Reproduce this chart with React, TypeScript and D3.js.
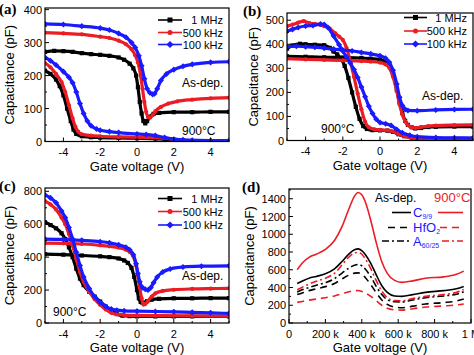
import * as React from 'react';
import * as d3 from 'd3';

type Pt = [number, number];

// ---- (a) C-V sweeps, gate voltage (V) vs capacitance (pF)
const aDep1M: Pt[] = [[-5,272],[-4.5,275],[-4,274],[-3.5,272],[-3,268],[-2.5,265],[-2,263],[-1.5,260],[-1,255],[-0.7,248],[-0.4,236],[-0.2,222],[-0.05,200],[0.05,165],[0.15,120],[0.25,85],[0.35,62],[0.45,55],[0.55,62],[0.7,75],[0.9,84],[1.2,87],[2,89],[3,89],[4,90],[5,90]];
const aDep500k: Pt[] = [[-5,330],[-4,328],[-3,325],[-2,318],[-1.5,314],[-1,306],[-0.6,295],[-0.3,280],[-0.1,262],[0.05,240],[0.2,200],[0.3,160],[0.4,120],[0.5,90],[0.6,74],[0.7,72],[0.85,80],[1,92],[1.3,105],[1.7,115],[2.2,122],[3,127],[4,131],[5,133]];
const aDep100k: Pt[] = [[-5,357],[-4,355],[-3,350],[-2,344],[-1.5,338],[-1,328],[-0.6,316],[-0.3,300],[-0.1,285],[0.1,260],[0.25,230],[0.4,190],[0.55,160],[0.7,148],[0.85,143],[0.95,145],[1.1,160],[1.3,185],[1.6,205],[2,218],[2.5,228],[3,234],[4,240],[5,242]];
const a900_1M: Pt[] = [[-5,215],[-4.7,205],[-4.4,188],[-4.2,168],[-4,140],[-3.8,100],[-3.6,62],[-3.45,36],[-3.3,23],[-3,16],[-2.5,13],[-2,12],[-1,11],[0,10],[1,9],[1.5,7],[2,4],[2.5,2]];
const a900_500k: Pt[] = [[-5,238],[-4.7,225],[-4.4,205],[-4.1,180],[-3.9,150],[-3.7,110],[-3.5,70],[-3.35,45],[-3.2,30],[-3,22],[-2.5,18],[-2,16],[-1,14],[0,13],[1,12],[1.5,10],[2,7],[2.5,4],[3,2]];
const a900_100k: Pt[] = [[-5,255],[-4.7,245],[-4.4,232],[-4,212],[-3.7,195],[-3.5,178],[-3.3,150],[-3.1,115],[-2.9,85],[-2.7,62],[-2.5,48],[-2.2,38],[-2,34],[-1.5,30],[-1,27],[0,23],[0.5,21],[1,18],[1.5,12],[2,7],[2.5,5],[3,4],[4,3],[5,3]];

// ---- (b)
const bDep1M: Pt[] = [[-5,350],[-4,348],[-3,346],[-2,345],[-1,343],[-0.5,340],[0,336],[0.3,328],[0.5,312],[0.7,275],[0.9,215],[1.05,160],[1.2,115],[1.35,82],[1.5,65],[1.7,55],[1.9,50],[2.2,52],[2.6,56],[3,57],[4,58],[5,58]];
const bDep500k: Pt[] = [[-5,340],[-4,337],[-3,335],[-2,333],[-1,330],[-0.5,328],[0,324],[0.3,316],[0.5,302],[0.7,265],[0.9,205],[1.05,150],[1.2,108],[1.35,80],[1.5,64],[1.7,55],[1.9,52],[2.2,56],[2.6,60],[3,62],[4,64],[5,65]];
const bDep100k: Pt[] = [[-5,390],[-4.5,392],[-4,390],[-3.5,388],[-3,384],[-2.5,380],[-2,376],[-1.5,372],[-1,366],[-0.5,360],[0,352],[0.3,342],[0.5,325],[0.7,292],[0.9,235],[1.05,180],[1.2,145],[1.35,130],[1.5,125],[2,124],[3,127],[4,129],[5,130]];
const b900_1M: Pt[] = [[-5,382],[-4.7,395],[-4.3,402],[-4,400],[-3.5,398],[-3,396],[-2.7,385],[-2.5,370],[-2.3,358],[-2.1,340],[-1.9,310],[-1.7,260],[-1.5,200],[-1.3,140],[-1.1,90],[-0.9,60],[-0.7,48],[-0.4,43],[0,42],[0.4,41],[0.7,36],[1,26],[1.3,18],[1.7,12],[2.2,9],[3,8],[5,8]];
const b900_500k: Pt[] = [[-5,475],[-4.7,482],[-4.4,490],[-4.1,496],[-3.8,488],[-3.5,485],[-3.2,480],[-3,475],[-2.7,465],[-2.4,445],[-2.2,432],[-2,418],[-1.8,385],[-1.6,330],[-1.4,265],[-1.2,195],[-1,130],[-0.8,78],[-0.6,55],[-0.3,46],[0,44],[0.4,42],[0.7,37],[1,27],[1.3,18],[1.7,12],[2.2,10],[3,9],[5,9]];
const b900_100k: Pt[] = [[-5,455],[-4.7,462],[-4.4,470],[-4,476],[-3.6,478],[-3.2,484],[-3,482],[-2.8,470],[-2.5,435],[-2.2,398],[-2,372],[-1.8,347],[-1.6,322],[-1.4,295],[-1.2,262],[-1,222],[-0.8,182],[-0.6,142],[-0.4,112],[-0.2,88],[0,75],[0.3,70],[0.6,62],[0.9,46],[1.2,32],[1.6,22],[2,16],[3,12],[4,11],[5,10]];

// ---- (c)
const cDep1M: Pt[] = [[-5,418],[-4,415],[-3,410],[-2,405],[-1.5,400],[-1,392],[-0.7,380],[-0.5,365],[-0.3,335],[-0.15,280],[0,200],[0.1,150],[0.2,128],[0.3,122],[0.4,124],[0.55,132],[0.8,142],[1.2,147],[2,150],[3,150],[4,151],[5,151]];
const cDep500k: Pt[] = [[-5,485],[-4,484],[-3,480],[-2,472],[-1.5,466],[-1,458],[-0.6,445],[-0.4,432],[-0.2,405],[-0.05,350],[0.05,290],[0.15,215],[0.25,150],[0.35,112],[0.45,115],[0.6,135],[0.8,160],[1,180],[1.4,195],[2,202],[3,207],[4,209],[5,210]];
const cDep100k: Pt[] = [[-5,510],[-4,508],[-3,502],[-2,494],[-1.5,487],[-1,475],[-0.6,460],[-0.4,445],[-0.2,415],[-0.05,360],[0.05,300],[0.15,250],[0.3,215],[0.45,205],[0.6,200],[0.75,215],[0.9,245],[1.1,280],[1.4,310],[1.8,328],[2.5,340],[3.5,345],[5,347]];
const c900_1M: Pt[] = [[-5,612],[-4.7,595],[-4.4,575],[-4.1,545],[-3.9,510],[-3.7,460],[-3.5,400],[-3.3,330],[-3.1,270],[-2.9,230],[-2.6,190],[-2.3,160],[-2,130],[-1.7,100],[-1.4,75],[-1.1,55],[-0.8,45],[-0.4,42],[0,40],[1,40],[2,40],[3,40],[5,40]];
const c900_500k: Pt[] = [[-5,740],[-4.7,720],[-4.4,690],[-4.1,640],[-3.9,600],[-3.7,540],[-3.5,470],[-3.3,390],[-3.1,310],[-2.9,250],[-2.6,190],[-2.3,145],[-2,110],[-1.7,82],[-1.4,62],[-1.1,52],[-0.7,48],[0,46],[1,45],[2,44],[3,43],[5,42]];
const c900_100k: Pt[] = [[-5,778],[-4.7,760],[-4.4,730],[-4.1,680],[-3.9,640],[-3.7,580],[-3.5,510],[-3.3,430],[-3.1,350],[-2.9,280],[-2.6,210],[-2.3,160],[-2,125],[-1.7,100],[-1.4,85],[-1.1,78],[-0.7,74],[0,72],[1,70],[2,68],[3,65],[4,62],[5,58]];

// ---- (d) capacitance vs frequency (kHz), as-deposited and 900 °C
const dDepC: Pt[] = [[45,445],[80,480],[110,505],[150,525],[200,555],[250,610],[290,690],[330,780],[360,825],[380,835],[400,815],[420,770],[450,670],[480,540],[510,420],[540,345],[580,305],[620,300],[680,320],[750,345],[850,365],[920,385],[960,412]];
const d900C: Pt[] = [[45,600],[80,690],[110,740],[150,775],[200,830],[250,930],[290,1080],[330,1290],[360,1430],[380,1470],[400,1445],[420,1360],[450,1150],[480,900],[510,690],[540,560],[580,480],[620,458],[680,475],[750,505],[850,520],[920,550],[960,585]];
const dDepHf: Pt[] = [[45,320],[80,345],[110,365],[150,385],[200,410],[250,445],[290,495],[330,540],[360,562],[380,565],[400,550],[420,510],[450,430],[480,340],[510,260],[540,210],[580,180],[620,172],[680,190],[750,215],[850,230],[920,248],[960,270]];
const d900Hf: Pt[] = [[45,232],[80,245],[110,258],[150,270],[200,285],[250,305],[290,328],[330,352],[360,364],[380,366],[400,356],[420,338],[450,300],[480,250],[510,200],[540,165],[580,148],[620,145],[680,160],[750,180],[850,192],[920,203],[960,215]];
const dDepA: Pt[] = [[45,350],[80,380],[110,400],[150,425],[200,455],[250,500],[290,560],[330,620],[360,652],[380,660],[400,645],[420,605],[450,520],[480,410],[510,320],[540,262],[580,240],[620,238],[680,260],[750,285],[850,305],[920,325],[960,352]];
const d900A: Pt[] = [[45,375],[80,410],[110,440],[150,470],[200,505],[250,560],[290,650],[330,745],[360,790],[380,795],[400,775],[420,720],[450,610],[480,475],[510,360],[540,285],[580,252],[620,250],[680,275],[750,300],[850,320],[920,345],[960,378]];

const freqLabels = ['1 MHz', '500 kHz', '100 kHz'];
const dSamples = ['C', 'HfO', 'A'];
const dSubs = ['9/9', '2', '60/25'];

const FONT = '"Liberation Sans", Arial, Helvetica, sans-serif';
const RED = '#ec1c24';
const BLUE = '#1a1aff';
const freqColors = ['#000000', RED, BLUE];
const freqMarkers = ['square', 'circle', 'diamond'];
const dashes = ['none', '7,5', '7,3,2,3'];

type Scale = d3.ScaleLinear<number, number>;

function Marker(p: { kind: string; x: number; y: number; color: string; size: number }) {
    const { kind, x, y, color, size } = p;
    if (kind === 'square') return <rect x={x - size / 2} y={y - size / 2} width={size} height={size} fill={color} />;
    if (kind === 'circle') return <circle cx={x} cy={y} r={size / 2} fill={color} />;
    const h = size * 0.72;
    return <path d={`M${x},${y - h}L${x + h},${y}L${x},${y + h}L${x - h},${y}Z`} fill={color} />;
}

interface AxesProps {
    x: Scale; y: Scale;
    xTicks: number[]; xMinor: number[];
    yTicks: number[]; yMinor: number[];
    fmtX?: (v: number) => string;
    yTitleX: number; xTitleY: number;
}

function Axes(p: AxesProps) {
    const { x, y } = p;
    const [l, r] = x.range();
    const [b, t] = y.range();
    const fmt = p.fmtX || ((v: number) => String(v));
    return (
        <g fontFamily={FONT} fill="#000">
            {p.xTicks.map(v => <line key={'xt' + v} x1={x(v)} x2={x(v)} y1={b} y2={b - 4} stroke="#000" />)}
            {p.xMinor.map(v => <line key={'xm' + v} x1={x(v)} x2={x(v)} y1={b} y2={b - 2} stroke="#000" />)}
            {p.yTicks.map(v => <line key={'yt' + v} x1={l} x2={l + 4} y1={y(v)} y2={y(v)} stroke="#000" />)}
            {p.yMinor.map(v => <line key={'ym' + v} x1={l} x2={l + 2} y1={y(v)} y2={y(v)} stroke="#000" />)}
            <rect x={l} y={t} width={r - l} height={b - t} fill="none" stroke="#000" strokeWidth={1.2} />
            {p.xTicks.map(v => (
                <text key={'xl' + v} x={x(v)} y={b + 14.5} fontSize={11} textAnchor="middle">{fmt(v)}</text>
            ))}
            {p.yTicks.map(v => (
                <text key={'yl' + v} x={l - 3} y={y(v) + 4} fontSize={11} textAnchor="end">{v}</text>
            ))}
            <text x={(l + r) / 2} y={p.xTitleY} fontSize={13} textAnchor="middle">Gate voltage (V)</text>
            <text transform={`translate(${p.yTitleX},${(t + b) / 2}) rotate(-90)`} fontSize={13} textAnchor="middle">
                Capacitance (pF)
            </text>
        </g>
    );
}

interface CvPanelProps {
    id: string;
    box: [number, number, number, number];
    yMax: number;
    yTicks: number[];
    yMinor: number[];
    dep: Pt[][];
    ann: Pt[][];
    legend: { x0: number; x1: number; textX: number; rows: number[] };
    yTitleX: number;
    xTitleY: number;
    children?: React.ReactNode;
}

function CvPanel(p: CvPanelProps) {
    const [l, t, r, b] = p.box;
    const x = d3.scaleLinear().domain([-5, 5]).range([l, r]);
    const y = d3.scaleLinear().domain([0, p.yMax]).range([b, t]);
    const line = d3.line<Pt>().x(d => x(d[0])).y(d => y(d[1])).curve(d3.curveMonotoneX);
    // draw each frequency's pair together so 100 kHz ends up on top
    const order: [Pt[], number][] = [];
    [0, 1, 2].forEach(i => { order.push([p.dep[i], i]); order.push([p.ann[i], i]); });
    return (
        <g>
            <defs>
                <clipPath id={p.id}><rect x={l} y={t} width={r - l} height={b - t} /></clipPath>
            </defs>
            <g clipPath={`url(#${p.id})`}>
                {order.map(([data, i], k) => (
                    <g key={k}>
                        <path d={line(data) || ''} fill="none" stroke={freqColors[i]} strokeWidth={3.2} strokeLinejoin="round" />
                        {data.map((d, j) => (
                            <Marker key={j} kind={freqMarkers[i]} x={x(d[0])} y={y(d[1])} color={freqColors[i]} size={4.2} />
                        ))}
                    </g>
                ))}
            </g>
            <Axes x={x} y={y} xTicks={[-4, -2, 0, 2, 4]} xMinor={[-5, -3, -1, 1, 3, 5]}
                yTicks={p.yTicks} yMinor={p.yMinor} yTitleX={p.yTitleX} xTitleY={p.xTitleY} />
            {freqLabels.map((lab, i) => {
                const ry = p.legend.rows[i];
                const cx = (p.legend.x0 + p.legend.x1) / 2;
                return (
                    <g key={lab}>
                        <line x1={p.legend.x0} x2={p.legend.x1} y1={ry} y2={ry} stroke={freqColors[i]} strokeWidth={1.6} />
                        <Marker kind={freqMarkers[i]} x={cx} y={ry} color={freqColors[i]} size={5} />
                        <text x={p.legend.textX} y={ry + 4} fontSize={11} fontFamily={FONT} textAnchor="end">{lab}</text>
                    </g>
                );
            })}
            {p.children}
        </g>
    );
}

function FreqPanel() {
    const l = 289, t = 189, r = 471, b = 323;
    const x = d3.scaleLinear().domain([0, 1000]).range([l, r]);
    const y = d3.scaleLinear().domain([0, 1510]).range([b, t]);
    const line = d3.line<Pt>().x(d => x(d[0])).y(d => y(d[1])).curve(d3.curveMonotoneX);
    const dep = [dDepC, dDepHf, dDepA];
    const ann = [d900C, d900Hf, d900A];
    const fmt = (v: number) => (v === 0 ? '0' : v >= 1000 ? '1 M' : `${v} k`);
    const rowY = [212.5, 227.5, 241];
    const blackSeg: [number, number][] = [[392, 411], [388, 412], [382, 412]];
    const redSeg: [number, number][] = [[438, 463], [440, 463], [442, 463]];
    return (
        <g>
            <defs>
                <clipPath id="clip-d"><rect x={l} y={t} width={r - l} height={b - t} /></clipPath>
            </defs>
            <g clipPath="url(#clip-d)">
                {dep.map((data, i) => (
                    <path key={'dep' + i} d={line(data) || ''} fill="none" stroke="#000" strokeWidth={1.6} strokeDasharray={dashes[i]} />
                ))}
                {ann.map((data, i) => (
                    <path key={'ann' + i} d={line(data) || ''} fill="none" stroke={RED} strokeWidth={1.6} strokeDasharray={dashes[i]} />
                ))}
            </g>
            <Axes x={x} y={y} xTicks={[0, 200, 400, 600, 800, 1000]} xMinor={[100, 300, 500, 700, 900]}
                yTicks={[0, 200, 400, 600, 800, 1000, 1200, 1400]} yMinor={[100, 300, 500, 700, 900, 1100, 1300, 1500]}
                fmtX={fmt} yTitleX={254} xTitleY={352} />
            <text x={375} y={202} fontSize={12} fontFamily={FONT}>As-dep.</text>
            <text x={434} y={202} fontSize={13} fontFamily={FONT} fill={RED}>900°C</text>
            {dSamples.map((s, i) => (
                <g key={s}>
                    <line x1={blackSeg[i][0]} x2={blackSeg[i][1]} y1={rowY[i]} y2={rowY[i]} stroke="#000" strokeWidth={1.6} strokeDasharray={dashes[i]} />
                    <line x1={redSeg[i][0]} x2={redSeg[i][1]} y1={rowY[i]} y2={rowY[i]} stroke={RED} strokeWidth={1.6} strokeDasharray={dashes[i]} />
                    <text x={413} y={rowY[i] + 4.5} fontSize={13} fontFamily={FONT} fill={BLUE}>
                        {s}<tspan fontSize={7} dy={2}>{dSubs[i]}</tspan>
                    </text>
                </g>
            ))}
        </g>
    );
}

const letterStyle = { fontFamily: '"Liberation Serif", "Times New Roman", serif', fontWeight: 700, fontSize: 15 } as const;

export default function App() {
    return (
        <svg width={474} height={355} style={{ position: 'absolute', left: 0, top: 0, background: '#fff' }}>
            <CvPanel id="clip-a" box={[45, 8, 229, 141.5]} yMax={405} yTicks={[0, 100, 200, 300, 400]} yMinor={[50, 150, 250, 350]}
                dep={[aDep1M, aDep500k, aDep100k]} ann={[a900_1M, a900_500k, a900_100k]}
                legend={{ x0: 158, x1: 182, textX: 223, rows: [20, 32.5, 44.5] }} yTitleX={14} xTitleY={171}>
                <text x={182} y={87} fontSize={12} fontFamily={FONT}>As-dep.</text>
                <text x={182} y={135} fontSize={12} fontFamily={FONT}>900°C</text>
            </CvPanel>
            <CvPanel id="clip-b" box={[287, 13, 473, 140.5]} yMax={530} yTicks={[0, 100, 200, 300, 400, 500]} yMinor={[50, 150, 250, 350, 450]}
                dep={[bDep1M, bDep500k, bDep100k]} ann={[b900_1M, b900_500k, b900_100k]}
                legend={{ x0: 404, x1: 427, textX: 467, rows: [17.5, 31, 44] }} yTitleX={258} xTitleY={170}>
                <text x={422} y={100} fontSize={12} fontFamily={FONT}>As-dep.</text>
                <text x={321} y={133} fontSize={12} fontFamily={FONT}>900°C</text>
            </CvPanel>
            <CvPanel id="clip-c" box={[45, 188, 229, 323]} yMax={820} yTicks={[0, 200, 400, 600, 800]} yMinor={[100, 300, 500, 700]}
                dep={[cDep1M, cDep500k, cDep100k]} ann={[c900_1M, c900_500k, c900_100k]}
                legend={{ x0: 158, x1: 182, textX: 223, rows: [198.5, 211.5, 225] }} yTitleX={14} xTitleY={352}>
                <text x={182} y={280} fontSize={12} fontFamily={FONT}>As-dep.</text>
                <text x={53} y={316} fontSize={12} fontFamily={FONT}>900°C</text>
            </CvPanel>
            <FreqPanel />
            <text x={-1} y={14} style={letterStyle}>(a)</text>
            <text x={243} y={16} style={letterStyle}>(b)</text>
            <text x={-1} y={191} style={letterStyle}>(c)</text>
            <text x={242} y={192} style={letterStyle}>(d)</text>
        </svg>
    );
}
